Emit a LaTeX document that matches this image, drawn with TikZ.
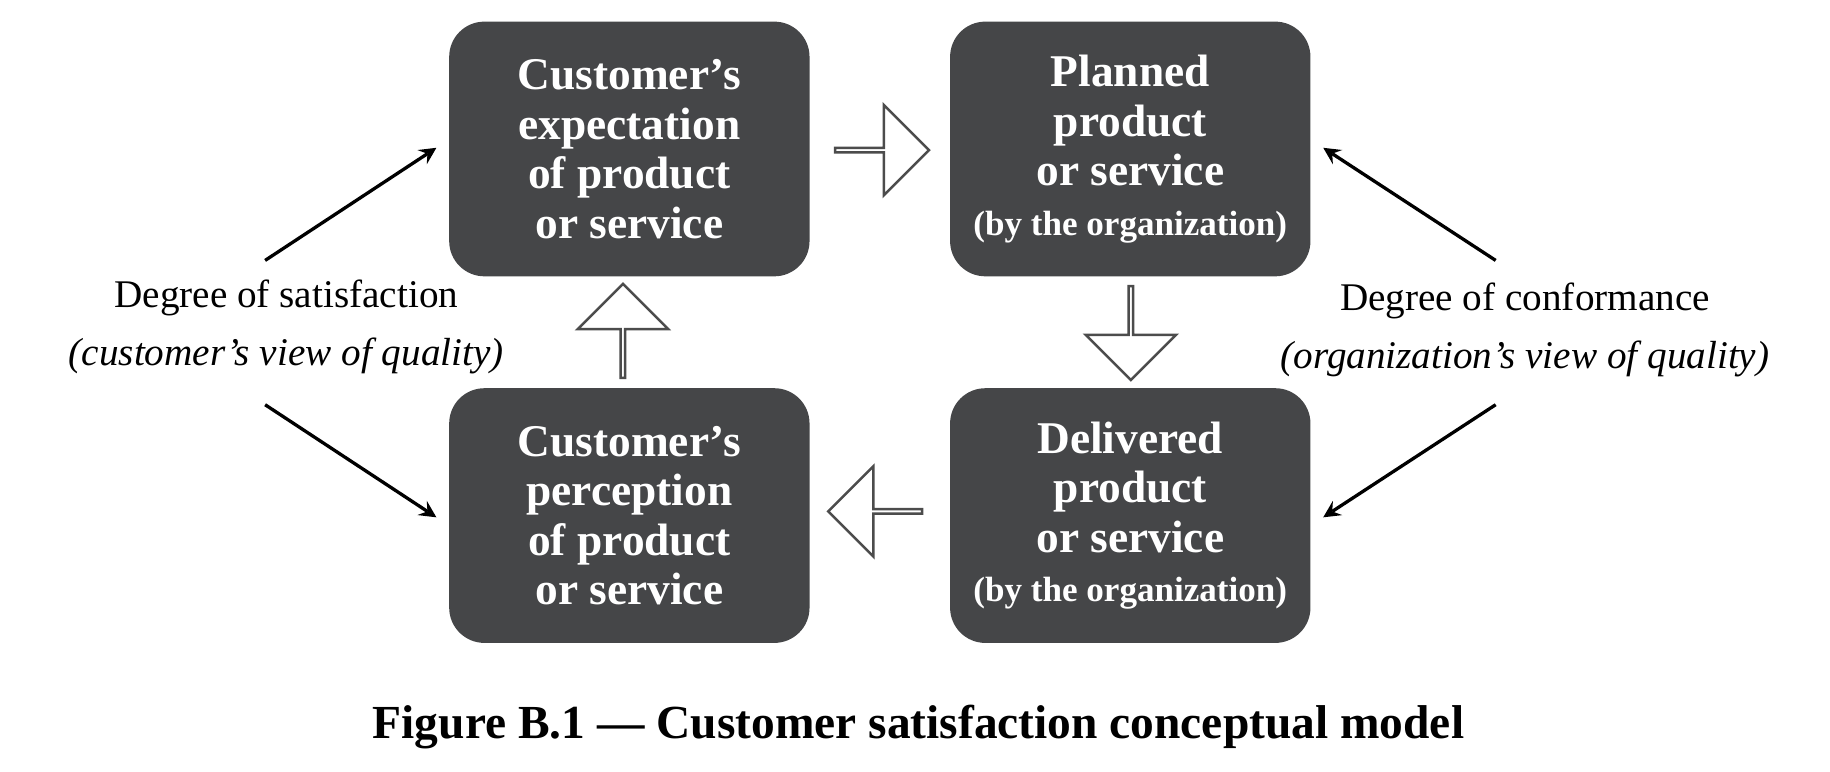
\documentclass[tikz,border=0pt]{standalone}
\usepackage{fontspec}
\setmainfont{Liberation Serif}
\usetikzlibrary{shapes, shapes.arrows, positioning}
\definecolor{boxgray}{HTML}{454648}
\begin{document}
\begin{tikzpicture}[x=0.01cm, y=-0.01cm,
  box/.style={rectangle, rounded corners=0.3cm, fill=boxgray, text=white, font=\bfseries\fontsize{11}{12}\selectfont, align=center, minimum width=3.07cm, minimum height=2.17cm, inner sep=0pt},
  blk/.style={single arrow, draw=black!70, fill=white, line width=0.6pt, minimum height=0.8cm, minimum width=0.77cm, single arrow head extend=0.2cm, inner sep=0pt},
  side/.style={font=\fontsize{9.5}{14}\selectfont, align=center}]
\useasboundingbox (0,0) rectangle (1560,658);
\node[box] (expect) at (536.5,127) {Customer's\\expectation\\of product\\or service};
\node[box] (planned) at (963.5,127) {Planned\\product\\or service\\{\fontsize{8.5}{10}\selectfont (by the organization)}};
\node[box] (percep) at (536.5,439.5) {Customer's\\perception\\of product\\or service};
\node[box] (deliv) at (963.5,439.5) {Delivered\\product\\or service\\{\fontsize{8.5}{10}\selectfont (by the organization)}};

\node[blk] (ar1) at (751,128) {};
\node[blk, shape border rotate=270] (ar2) at (964,283) {};
\node[blk, shape border rotate=90] (ar3) at (531,283) {};
\node[blk, shape border rotate=180] (ar4) at (747,436) {};

\node[side] (sat) at (244,279) {Degree of satisfaction\\\textit{(customer's view of quality)}};
\node[side] (conf) at (1300,281) {Degree of conformance\\\textit{(organization's view of quality)}};

\coordinate (s1) at (226,222);
\coordinate (s2) at (226,345);
\coordinate (c1) at (1275,222);
\coordinate (c2) at (1275,345);
\coordinate (e1) at (372,126);
\coordinate (e2) at (372,441);
\coordinate (e3) at (1128,126);
\coordinate (e4) at (1128,441);
\draw[-stealth, thick] (s1) -- (e1);
\draw[-stealth, thick] (s2) -- (e2);
\draw[-stealth, thick] (c1) -- (e3);
\draw[-stealth, thick] (c2) -- (e4);

\node[font=\bfseries\fontsize{11.5}{13}\selectfont] (cap) at (783,620) {Figure B.1 --- Customer satisfaction conceptual model};
\end{tikzpicture}
\end{document}
